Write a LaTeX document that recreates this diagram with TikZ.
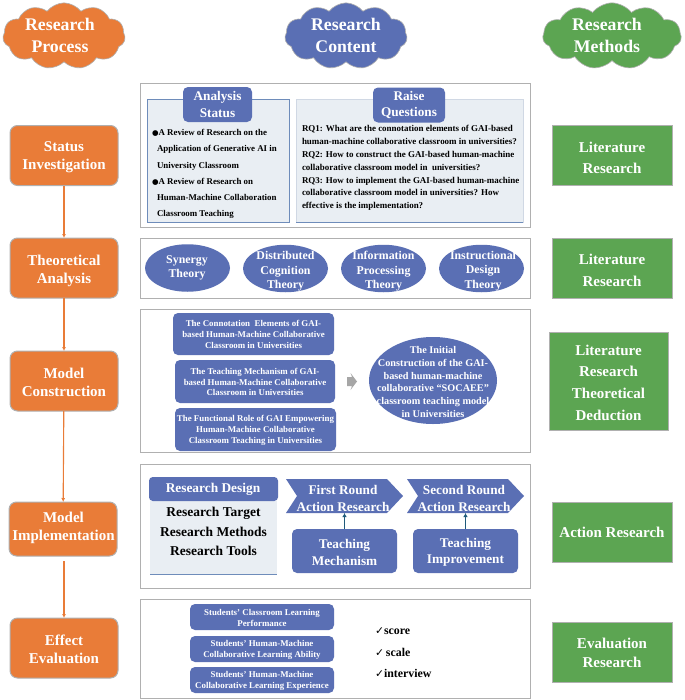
\documentclass[tikz,border=0pt]{standalone}
\usepackage{fontspec}
\setmainfont{Liberation Serif}
\newfontfamily\symfont{DejaVu Sans}
\usetikzlibrary{shapes.geometric,shapes.symbols,arrows.meta}
\definecolor{cE97C38}{RGB}{233,124,56}
\definecolor{c5A6FB4}{RGB}{90,111,180}
\definecolor{c5CA552}{RGB}{92,165,82}
\definecolor{cE9EEF3}{RGB}{233,238,243}
\definecolor{c7F9CC4}{RGB}{110,140,186}
\definecolor{cD0D8E4}{RGB}{208,216,228}
\definecolor{cB0B0B0}{RGB}{176,176,176}
\definecolor{cA6A6A6}{RGB}{166,166,166}
\definecolor{c1F5A7A}{RGB}{31,90,122}
\tikzset{
  pt head/.style={font=\fontsize{14.2}{17.6}\selectfont\bfseries,text=white,align=center},
  pt box/.style={font=\fontsize{12}{14.4}\selectfont\bfseries,text=white,align=center},
  pt method/.style={font=\fontsize{12}{17.3}\selectfont\bfseries,text=white,align=center},
  pt tab/.style={font=\fontsize{10.6}{13}\selectfont\bfseries,text=white,align=center},
  pt oval/.style={font=\fontsize{9.5}{11.6}\selectfont\bfseries,text=white,align=center},
  pt small/.style={font=\fontsize{7.1}{8.7}\selectfont\bfseries,text=white,align=center},
  pt black/.style={font=\fontsize{10.8}{15.6}\selectfont\bfseries,text=black,align=center},
  pt check/.style={anchor=west,font=\fontsize{9.5}{11}\selectfont\bfseries},
  step box/.style={rectangle,rounded corners=6pt,fill=cE97C38,draw=cB0B0B0,line width=0.8pt,minimum width=86.4pt,minimum height=48pt},
  method box/.style={fill=c5CA552,draw=cB0B0B0,line width=0.8pt},
  blue box/.style={rectangle,rounded corners=4pt,fill=c5A6FB4},
  blue oval/.style={ellipse,fill=c5A6FB4,minimum width=68pt,minimum height=38pt},
  head cloud/.style={cloud,cloud puffs=11,cloud puff arc=105,aspect=1.9,minimum width=98pt,minimum height=53pt,draw=cB0B0B0,line width=0.5pt},
  panel/.style={draw=cB0B0B0,line width=0.8pt,fill=white},
  soft/.style={draw=c7F9CC4,line width=0.7pt,fill=cE9EEF3},
  flow/.style={draw=cE97C38,line width=0.9pt,-{Latex[length=3.2pt,width=3.2pt]}},
  rise/.style={draw=c1F5A7A,line width=1.2pt,-{Latex[length=3.2pt,width=3.6pt]}},
}
\newcommand{\bulletmark}{{\symfont\fontsize{6}{13}\selectfont ●}}
\newcommand{\checkmarkb}{{\symfont\fontsize{8.6}{11}\selectfont ✓}}

\begin{document}
\begin{tikzpicture}[y=0.80pt, x=0.8pt,yscale=-1, inner sep=0pt, outer sep=0pt]
  \useasboundingbox (0,0) rectangle (685,700);

  % header clouds
  \node[head cloud,fill=cE97C38] (cloudprocess) at (64,36) {};
  \node[head cloud,fill=c5A6FB4] (cloudcontent) at (346,36) {};
  \node[head cloud,fill=c5CA552,minimum width=111pt] (cloudmethods) at (612,36) {};
  \node[pt head] (textprocess) at (60,35) {Research\\Process};
  \node[pt head] (textcontent) at (346,35) {Research\\Content};
  \node[pt head] (textmethods) at (607,35) {Research\\Methods};

  % panels
  \path[panel] (140,83) rectangle (530,227);
  \path[panel] (140,238) rectangle (530,298);
  \path[panel] (140,309) rectangle (530,452);
  \path[panel] (140,464) rectangle (530,588);
  \path[panel] (140,599) rectangle (530,698);

  % left column
  \node[step box] (status) at (64,155.5) {};
  \node[step box] (theory) at (64,268) {};
  \node[step box] (model) at (64,381) {};
  \node[step box,minimum height=43.2pt] (implement) at (63,529) {};
  \node[step box] (effect) at (64,648) {};
  \node[pt box] (statustext) at (64,157.5) {Status\\Investigation};
  \node[pt box] (theorytext) at (64,270.5) {Theoretical\\Analysis};
  \node[pt box] (modeltext) at (64,382.5) {Model\\Construction};
  \node[pt box] (implementtext) at (63.5,528) {Model\\Implementation};
  \node[pt box] (effecttext) at (64,649) {Effect\\Evaluation};
  \coordinate (implementout) at (64,561);
  \path[flow] (status) -- (theory);
  \path[flow] (theory) -- (model);
  \path[flow] (model) -- (implement);
  \path[flow] (implementout) -- (effect);

  % right column
  \path[method box] (552,125) rectangle (672,185);
  \path[method box] (552,238) rectangle (672,298);
  \path[method box] (549,332) rectangle (668,430);
  \path[method box] (552,502) rectangle (672,562);
  \path[method box] (552,622) rectangle (672,682);
  \node[pt method] (methoda) at (612,158) {Literature\\Research};
  \node[pt method] (methodb) at (612,270.5) {Literature\\Research};
  \node[pt method] (methodc) at (608.5,382.5) {Literature\\Research\\Theoretical\\Deduction};
  \node[pt method] (methodd) at (612,532) {Action Research};
  \node[pt method,font=\fontsize{12}{15.2}\selectfont\bfseries] (methode) at (612,652.5) {Evaluation\\Research};

  % status panel
  \path[soft] (147,99) rectangle (289,222);
  \path[fill=cE9EEF3,draw=cD0D8E4,line width=0.7pt] (296,99) rectangle (523,222);
  \path[draw=c7F9CC4,line width=0.8pt] (296,222) -- (523,222);
  \node[blue box,pt tab,minimum width=55.2pt,minimum height=28pt] (analysis) at (217.5,104.5) {Analysis\\Status};
  \node[blue box,pt tab,minimum width=57.6pt,minimum height=28pt] (raise) at (409,105) {Raise\\Questions};
  \node[anchor=west,align=left,font=\fontsize{7.1}{13}\selectfont\bfseries] (reviews) at (152,174)
    {\bulletmark A Review of Research on the\\
     \hspace*{4pt}Application of Generative AI in\\
     \hspace*{4pt}University Classroom\\
     \bulletmark A Review of Research on\\
     \hspace*{4pt}Human-Machine Collaboration\\
     \hspace*{4pt}Classroom Teaching};
  \node[anchor=west,align=left,font=\fontsize{7.17}{10.3}\selectfont\bfseries] (questions) at (302,168)
    {RQ1: What are the connotation elements of GAI-based\\
     human-machine collaborative classroom in universities?\\
     RQ2: How to construct the GAI-based human-machine\\
     collaborative classroom model in~ universities?\\
     RQ3: How to implement the GAI-based human-machine\\
     collaborative classroom model in universities? How\\
     effective is the implementation?};

  % theory panel
  \node[blue oval] (synergy) at (187.5,268) {};
  \node[blue oval] (distributed) at (285.5,268.5) {};
  \node[blue oval] (information) at (383.5,268.5) {};
  \node[blue oval] (instructional) at (481.5,268.5) {};
  \node[pt oval] (synergytext) at (187,268) {Synergy\\Theory};
  \node[pt oval] (distributedtext) at (285.5,271.5) {Distributed\\Cognition\\Theory};
  \node[pt oval] (informationtext) at (383.5,271.5) {Information\\Processing\\Theory};
  \node[pt oval] (instructionaltext) at (483,271) {Instructional\\Design\\Theory};

  % model panel
  \node[blue box,minimum width=128.8pt,minimum height=33.6pt] (connotation) at (253.5,334) {};
  \node[blue box,minimum width=128pt,minimum height=34.4pt] (mechanism) at (255,381.5) {};
  \node[blue box,minimum width=128.8pt,minimum height=34.4pt] (functional) at (255.5,429.5) {};
  \node[pt small] (connotationtext) at (253.5,334.5)
    {The Connotation~ Elements of GAI-\\based Human-Machine Collaborative\\Classroom in Universities};
  \node[pt small] (mechanismtext) at (255,382)
    {The Teaching Mechanism of GAI-\\based Human-Machine Collaborative\\Classroom in Universities};
  \node[pt small] (functionaltext) at (255.5,430.5)
    {The Functional Role of GAI Empowering\\Human-Machine Collaborative\\Classroom Teaching in Universities};
  \path[fill=cA6A6A6] (347,377) -- (352,377) -- (350.5,373) -- (357,381.5) -- (350.5,390) -- (352,386) -- (347,386) -- cycle;
  \node[ellipse,fill=c5A6FB4,minimum width=102.4pt,minimum height=69.6pt] (initial) at (433,380.5) {};
  \node[align=center,text=white,font=\fontsize{8.2}{10.25}\selectfont\bfseries] (initialtext) at (433,382)
    {The Initial\\Construction of the GAI-\\based human-machine\\collaborative ``SOCAEE''\\classroom teaching model\\in Universities};

  % implementation panel
  \path[fill=cE9EEF3] (150,501) rectangle (277,574);
  \path[draw=c7F9CC4,line width=0.8pt] (150,574) -- (277,574);
  \path[fill=c5A6FB4,rounded corners=3pt] (149,501) -- (149,477) -- (278,477) -- (278,501) -- cycle;
  \node[pt tab,font=\fontsize{10.7}{13}\selectfont\bfseries] (design) at (213,489) {Research Design};
  \node[pt black] (designitems) at (213.5,531.5) {Research Target\\Research Methods\\Research Tools};
  \path[fill=c5A6FB4] (286,479) -- (387,479) -- (403,496) -- (387,513) -- (286,513) -- (297,496) -- cycle;
  \path[fill=c5A6FB4] (407,479) -- (508,479) -- (524,496) -- (508,513) -- (407,513) -- (418,496) -- cycle;
  \node[pt tab] (firstround) at (343,498.5) {First Round\\Action Research};
  \node[pt tab] (secondround) at (464,498.5) {Second Round\\Action Research};
  \node[blue box,minimum width=84pt,minimum height=35.2pt] (teachingmech) at (344.5,551) {};
  \node[blue box,minimum width=84pt,minimum height=35.2pt] (teachingimp) at (465.5,551) {};
  \node[pt tab] (teachingmechtext) at (344.5,552.5) {Teaching\\Mechanism};
  \node[pt tab] (teachingimptext) at (465.5,552.5) {Teaching\\Improvement};
  \coordinate (firsttip) at (344.5,513);
  \coordinate (secondtip) at (465.5,513);
  \path[rise] (teachingmech) -- (firsttip);
  \path[rise] (teachingimp) -- (secondtip);

  % evaluation panel
  \node[blue box,minimum width=115.2pt,minimum height=20.8pt] (performance) at (262,617) {};
  \node[blue box,minimum width=115.2pt,minimum height=20.8pt] (ability) at (262,649) {};
  \node[blue box,minimum width=115.2pt,minimum height=20.8pt] (experience) at (262,680) {};
  \node[pt small] (performancetext) at (262,618) {Students' Classroom Learning\\Performance};
  \node[pt small] (abilitytext) at (262,650) {Students' Human-Machine\\Collaborative Learning Ability};
  \node[pt small] (experiencetext) at (262,681) {Students' Human-Machine\\Collaborative Learning Experience};
  \node[pt check] (score) at (375,631) {\checkmarkb score};
  \node[pt check] (scale) at (375,652) {\checkmarkb\,scale};
  \node[pt check] (interview) at (375,673) {\checkmarkb interview};
\end{tikzpicture}
\end{document}
